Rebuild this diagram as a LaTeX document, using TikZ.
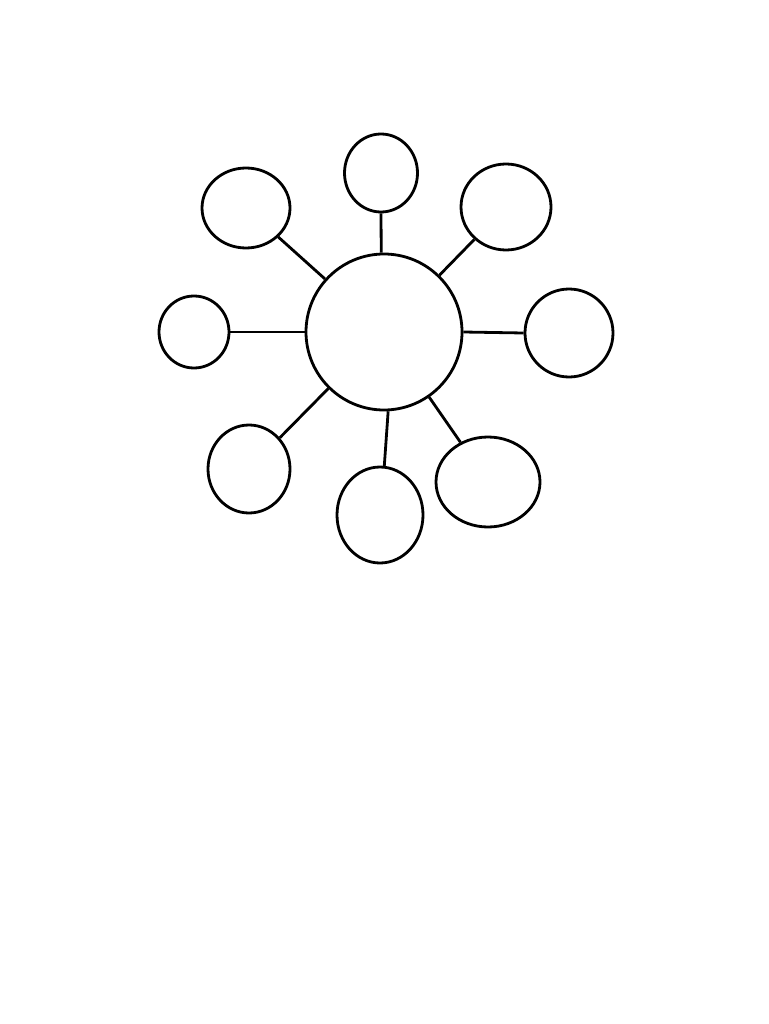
\documentclass[tikz,border=0pt]{standalone}
\usetikzlibrary{shapes.geometric}
\begin{document}
\begin{tikzpicture}[x=1pt,y=-1pt,
  bubble/.style={draw=black,line width=2.8pt,ellipse,inner sep=0pt,fill=white},
  link/.style={draw=black,line width=2.8pt}]
\useasboundingbox (0,0) rectangle (768,1024);
\fill[white] (0,0) rectangle (768,1024);
\node[bubble,minimum width=156pt,minimum height=156pt] (c) at (384,332) {};
\node[bubble,minimum width=73pt,minimum height=78pt] (t) at (381,173) {};
\node[bubble,minimum width=88pt,minimum height=80pt] (tl) at (246,208) {};
\node[bubble,minimum width=90pt,minimum height=86pt] (tr) at (506,207) {};
\node[bubble,minimum width=70pt,minimum height=72pt] (l) at (194,332) {};
\node[bubble,minimum width=88pt,minimum height=88pt] (r) at (569,333) {};
\node[bubble,minimum width=82pt,minimum height=88pt] (bl) at (249,469) {};
\node[bubble,minimum width=86pt,minimum height=96pt] (b) at (380,515) {};
\node[bubble,minimum width=104pt,minimum height=90pt] (br) at (488,482) {};
\draw[link] (c.92) -- (t.south);
\draw[link] (c) -- (tl);
\draw[link] (c) -- (tr);
\draw[link] (c.west) -- (l.east);
\draw[link] (c.east) -- (r.west);
\draw[link] (c) -- (bl);
\draw[link] (c.-87) -- (b.85);
\draw[link] (c) -- (br);
\end{tikzpicture}
\end{document}
